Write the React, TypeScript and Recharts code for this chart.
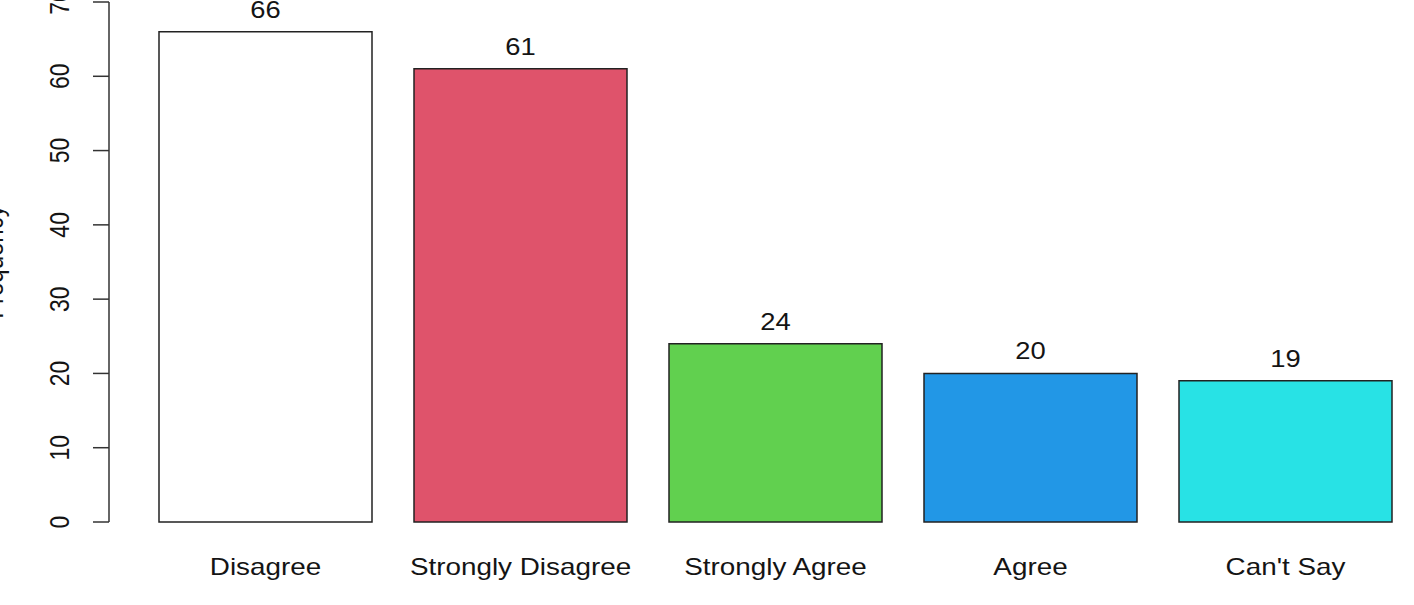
import React from 'react';
import { BarChart, Bar, XAxis, YAxis, Cell, LabelList } from 'recharts';

const categories = ['Disagree', 'Strongly Disagree', 'Strongly Agree', 'Agree', "Can't Say"];
const counts = [66, 61, 24, 20, 19];
const yTicks = [0, 10, 20, 30, 40, 50, 60, 70];
const barColors = ['#FFFFFF', '#DF536B', '#61D04F', '#2297E6', '#28E2E5'];

const data = categories.map((name, i) => ({ name, count: counts[i] }));

const FONT = '"Liberation Sans", Arial, sans-serif';
const TEXT = '#141414';

const XTick = (props: any) => {
    const { x, y, payload } = props;
    return (
        <g transform={`translate(${x},${y + 53})`}>
            <text transform="scale(1.16,1)" textAnchor="middle" fontSize={24} fontFamily={FONT} fill={TEXT}>
                {payload.value}
            </text>
        </g>
    );
};

const YTick = (props: any) => {
    const { y, payload } = props;
    return (
        <g transform={`translate(69,${y})`}>
            <text transform="scale(1.2,1) rotate(-90)" textAnchor="middle" fontSize={23} fontFamily={FONT} fill={TEXT}>
                {payload.value}
            </text>
        </g>
    );
};

const ValueLabel = (props: any) => {
    const { x, y, width, value } = props;
    return (
        <g transform={`translate(${x + width / 2},${y - 14})`}>
            <text transform="scale(1.14,1)" textAnchor="middle" fontSize={24} fontFamily={FONT} fill={TEXT}>
                {value}
            </text>
        </g>
    );
};

const App = () => {
    return (
        <div style={{ position: 'absolute', left: 0, top: 0, width: 1414, height: 605, background: '#fff' }}>
            <BarChart
                width={1414}
                height={605}
                data={data}
                margin={{ top: 2, right: 1, bottom: 0, left: 0 }}
                barCategoryGap={21}
                accessibilityLayer={false}
            >
                <XAxis
                    dataKey="name"
                    axisLine={false}
                    tickLine={false}
                    tickSize={0}
                    tickMargin={0}
                    height={83}
                    padding={{ left: 29, right: 0 }}
                    interval={0}
                    tick={<XTick />}
                />
                <YAxis
                    width={109}
                    domain={[0, 70]}
                    ticks={yTicks}
                    interval={0}
                    tickSize={16}
                    tickMargin={0}
                    stroke="#333"
                    strokeWidth={1.5}
                    tick={<YTick />}
                    label={() => (
                        <text transform="translate(3,262) scale(1.12,1) rotate(-90)" textAnchor="middle" fontSize={24} fontFamily={FONT} fill={TEXT}>
                            Frequency
                        </text>
                    )}
                />
                <Bar dataKey="count" isAnimationActive={false} stroke="#222" strokeWidth={1.5}>
                    {data.map((d, i) => (
                        <Cell key={d.name} fill={barColors[i]} stroke="#222" strokeWidth={1.5} />
                    ))}
                    <LabelList dataKey="count" content={<ValueLabel />} />
                </Bar>
            </BarChart>
        </div>
    );
};

export default App;
